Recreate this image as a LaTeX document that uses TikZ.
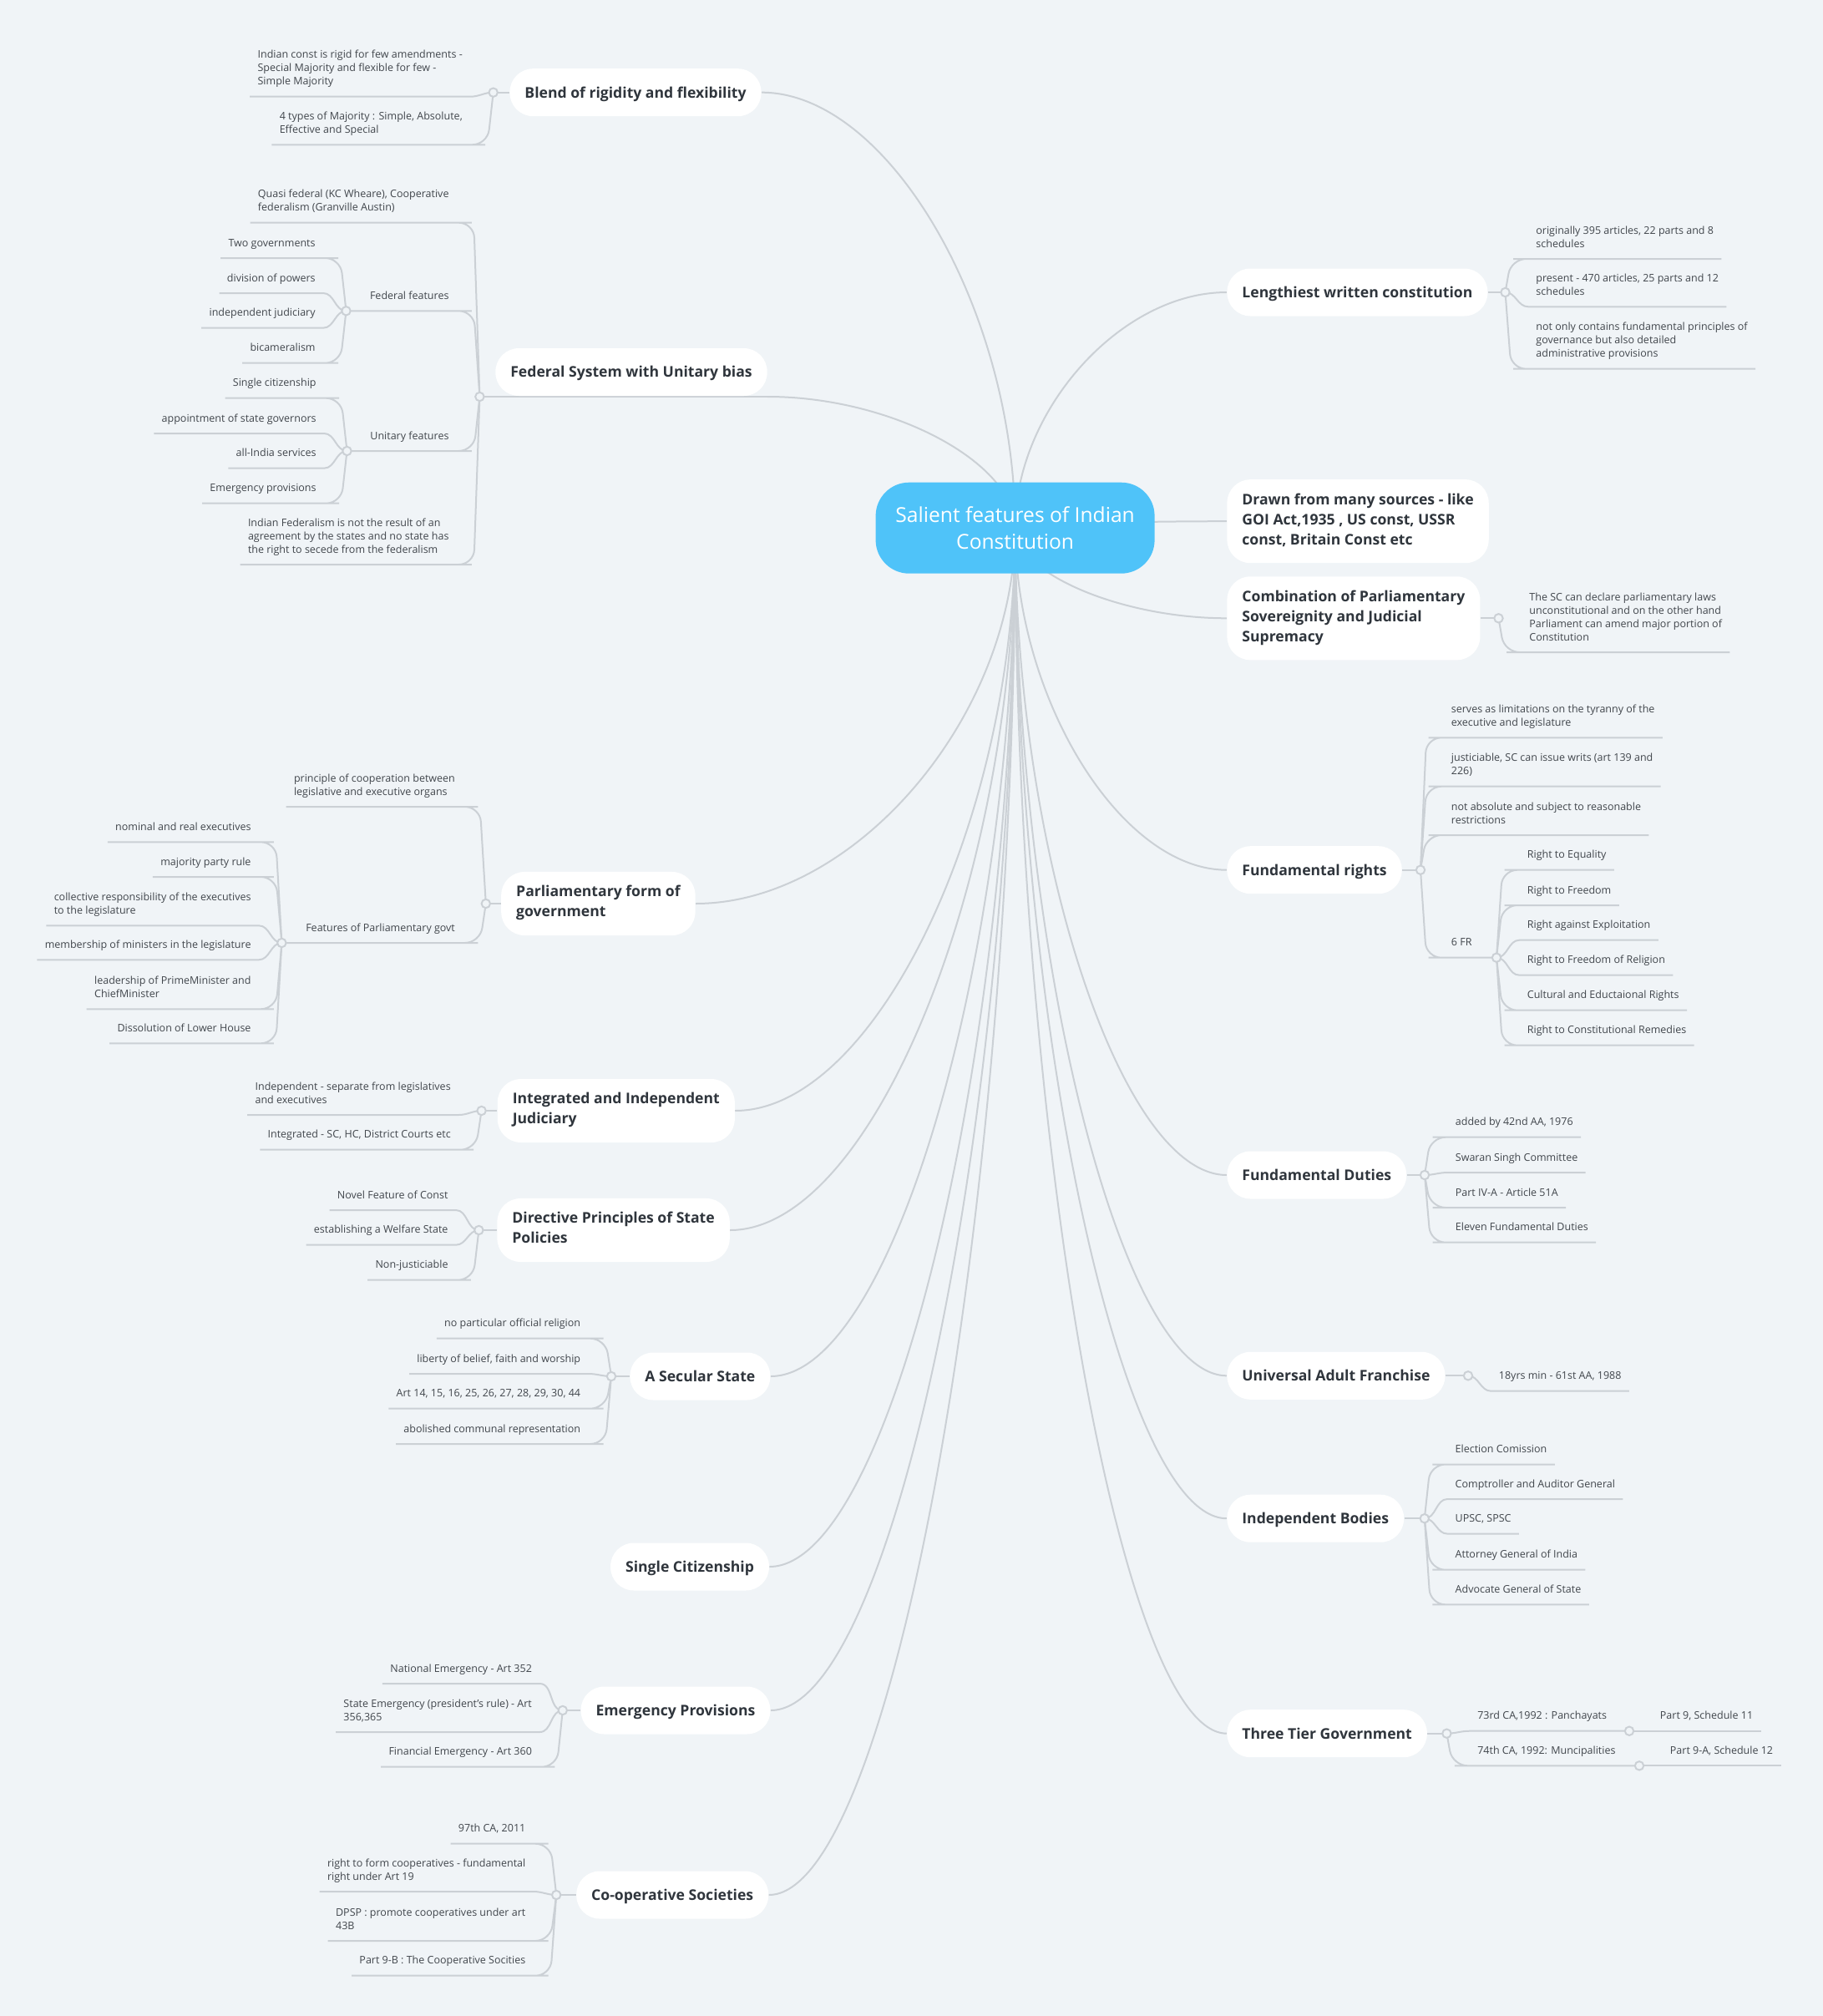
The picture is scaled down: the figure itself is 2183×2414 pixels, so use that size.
\documentclass[tikz,border=0pt]{standalone}
\usepackage{fontspec}
\setmainfont{Open Sans}
\usetikzlibrary{calc}
\definecolor{bgc}{HTML}{F0F4F7}
\definecolor{linec}{HTML}{CBD0D5}
\definecolor{maintxt}{HTML}{2F353C}
\definecolor{leaftxt}{HTML}{41464C}
\definecolor{rootfill}{HTML}{4FC3F9}
\pgfdeclarelayer{bg}
\pgfsetlayers{bg,main}
\newcommand\lfnt{\fontsize{6.25}{8}\selectfont}
\newcommand\mfnt{\fontsize{8.8}{12}\selectfont\bfseries}
\newcommand\rfnt{\fontsize{12.3}{16}\selectfont}
\newcommand\topstrut{\rule{0pt}{9.2pt}}
\newcommand\botstrut{\rule[-2.8pt]{0pt}{2.8pt}}
\tikzset{
  conn/.style={draw=linec, line width=1pt},
  mainlink/.style={to path={let \p1=(\tikztostart), \p2=(\tikztotarget), \p3=($(\tikztostart)!0.5!(\tikztotarget)$) in .. controls (\x1,\y3) and (\x3,\y2) .. (\tikztotarget)}},
  rootnode/.style={fill=rootfill, text=white, font=\rfnt, align=center, rounded corners=20pt, minimum width=167pt, minimum height=54.5pt, inner sep=0pt},
  topic/.style={fill=white, text=maintxt, font=\mfnt, align=left, rounded corners=14pt, inner xsep=9pt, inner ysep=8.25pt, execute at begin node=\topstrut, execute at end node=\botstrut},
  leaf/.style={text=leaftxt, font=\lfnt, align=left, inner xsep=4.5pt, inner ysep=4.3pt, execute at end node=\strut},
  leafL/.style={leaf, anchor=south east},
  leafR/.style={leaf, anchor=south west},
  dot/.style={draw=linec, fill=bgc, line width=1pt},
  elbow/.style={rounded corners=9pt},
}
\newcommand\LinkLS[2]{\draw[conn] (#1.south west) -- (#1.south east) to[out=0,in=180] (#2);}
\newcommand\LinkLE[2]{\draw[conn,elbow] (#1.south west) -- (#1.south east) -- ($(#2 |- #1.south)+(-7,0)$) -- (#2);}
\newcommand\LinkRS[2]{\draw[conn] (#1.south east) -- (#1.south west) to[out=180,in=0] (#2);}
\newcommand\LinkRE[2]{\draw[conn,elbow] (#1.south east) -- (#1.south west) -- ($(#2 |- #1.south)+(7,0)$) -- (#2);}
\begin{document}
\begin{tikzpicture}[x=0.5pt,y=-0.5pt]
\useasboundingbox (0,0) rectangle (2183,2414);

% ---------- root ----------
\node[rootnode] (root) at (1215.6,632.2) {Salient features of Indian\\Constitution};

% ---------- main topics, left ----------
\node[topic] (blend) at (761,110.7) {Blend of rigidity and flexibility};
\node[topic] (fed) at (756,445.5) {Federal System with Unitary bias};
\node[topic] (par) at (716.4,1082) {Parliamentary form of\\government};
\node[topic] (int) at (737.8,1330) {Integrated and Independent\\Judiciary};
\node[topic] (dir) at (734.6,1473) {Directive Principles of State\\Policies};
\node[topic] (sec) at (838.4,1648) {A Secular State};
\node[topic] (sin) at (826,1876) {Single Citizenship};
\node[topic] (eme) at (809,2048) {Emergency Provisions};
\node[topic] (coop) at (805.2,2269) {Co-operative Societies};

% ---------- main topics, right ----------
\node[topic,anchor=west] (len) at (1469,350) {Lengthiest written constitution};
\node[topic,anchor=west] (drawn) at (1469,624.2) {Drawn from many sources - like\\GOI Act,1935 , US const, USSR\\const, Britain Const etc};
\node[topic,anchor=west] (com) at (1469,740.3) {Combination of Parliamentary\\Sovereignity and Judicial\\Supremacy};
\node[topic,anchor=west] (fr) at (1469,1041.7) {Fundamental rights};
\node[topic,anchor=west] (fd) at (1469,1407) {Fundamental Duties};
\node[topic,anchor=west] (uaf) at (1469,1647.3) {Universal Adult Franchise};
\node[topic,anchor=west] (ib) at (1469,1818.2) {Independent Bodies};
\node[topic,anchor=west] (tt) at (1469,2075.7) {Three Tier Government};

% ---------- junction points ----------
\coordinate (cBlend) at (590.7,110.7);
\coordinate (cFed) at (574.4,475);
\coordinate (fedR) at (cFed -| fed.east);
\coordinate (cFedF) at (414.5,372.3);
\coordinate (cFedU) at (415.5,540);
\coordinate (cPar) at (581.8,1082);
\coordinate (cParF) at (337.4,1129);
\coordinate (cInt) at (576.6,1330);
\coordinate (cDir) at (573.4,1473);
\coordinate (cSec) at (732,1648);
\coordinate (cEme) at (673.8,2048);
\coordinate (cCoop) at (666.2,2269);
\coordinate (cLen) at (1802.5,350);
\coordinate (cCom) at (1794.5,740.3);
\coordinate (cFR) at (1701,1041.7);
\coordinate (cFRsix) at (1792,1146.7);
\coordinate (cFD) at (1706,1407);
\coordinate (cUAF) at (1758,1647.3);
\coordinate (cIB) at (1705.8,1818.2);
\coordinate (cTT) at (1732.4,2075.7);
\coordinate (cTTa) at (1951,2072.7);
\coordinate (cTTb) at (1963,2114.3);

% ---------- leaves, left ----------
\node[leafL] (bA) at (563.2,115.7) {Indian const is rigid for few amendments -\\Special Majority and flexible for few -\\Simple Majority};
\node[leafL] (bB) at (563.2,173.3) {4 types of Majority : Simple, Absolute,\\Effective and Special};

\node[leafL] (fA) at (546.9,266.7) {Quasi federal (KC Wheare), Cooperative\\federalism (Granville Austin)};
\node[leafL] (fF) at (546.9,372.3) {Federal features};
\node[leafL] (fU) at (546.9,540) {Unitary features};
\node[leafL] (fB) at (546.9,676) {Indian Federalism is not the result of an\\agreement by the states and no state has\\the right to secede from the federalism};

\node[leafL] (f1) at (387,309) {Two governments};
\node[leafL] (f2) at (387,351) {division of powers};
\node[leafL] (f3) at (387,392.7) {independent judiciary};
\node[leafL] (f4) at (387,434.7) {bicameralism};

\node[leafL] (u1) at (388,476.7) {Single citizenship};
\node[leafL] (u2) at (388,519) {appointment of state governors};
\node[leafL] (u3) at (388,560.7) {all-India services};
\node[leafL] (u4) at (388,602.7) {Emergency provisions};

\node[leafL] (p1) at (554.3,966) {principle of cooperation between\\legislative and executive organs};
\node[leafL] (pF) at (554.3,1129) {Features of Parliamentary govt};

\node[leafL] (q1) at (309.9,1008.3) {nominal and real executives};
\node[leafL] (q2) at (309.9,1050) {majority party rule};
\node[leafL] (q3) at (309.9,1108.3) {collective responsibility of the executives\\to the legislature};
\node[leafL] (q4) at (309.9,1149.3) {membership of ministers in the legislature};
\node[leafL] (q5) at (309.9,1208.3) {leadership of PrimeMinister and\\ChiefMinister};
\node[leafL] (q6) at (309.9,1249.3) {Dissolution of Lower House};

\node[leafL] (i1) at (549.1,1335) {Independent - separate from legislatives\\and executives};
\node[leafL] (i2) at (549.1,1376.7) {Integrated - SC, HC, District Courts etc};

\node[leafL] (d1) at (545.9,1449) {Novel Feature of Const};
\node[leafL] (d2) at (545.9,1490.7) {establishing a Welfare State};
\node[leafL] (d3) at (545.9,1532.7) {Non-justiciable};

\node[leafL] (s1) at (704.5,1602.7) {no particular official religion};
\node[leafL] (s2) at (704.5,1645) {liberty of belief, faith and worship};
\node[leafL] (s3) at (704.5,1686.7) {Art 14, 15, 16, 25, 26, 27, 28, 29, 30, 44};
\node[leafL] (s4) at (704.5,1729) {abolished communal representation};

\node[leafL] (e1) at (646.3,2016) {National Emergency - Art 352};
\node[leafL] (e2) at (646.3,2074) {State Emergency (president's rule) - Art\\356,365};
\node[leafL] (e3) at (646.3,2115.7) {Financial Emergency - Art 360};

\node[leafL] (k1) at (638.7,2207.7) {97th CA, 2011};
\node[leafL] (k2) at (638.7,2265) {right to form cooperatives - fundamental\\right under Art 19};
\node[leafL] (k3) at (638.7,2324) {DPSP : promote cooperatives under art\\43B};
\node[leafL] (k4) at (638.7,2365.7) {Part 9-B : The Cooperative Socities};

% ---------- leaves, right ----------
\node[leafR] (l1) at (1830,310) {originally 395 articles, 22 parts and 8\\schedules};
\node[leafR] (l2) at (1830,367.3) {present - 470 articles, 25 parts and 12\\schedules};
\node[leafR] (l3) at (1830,441.7) {not only contains fundamental principles of\\governance but also detailed\\administrative provisions};

\node[leafR] (m1) at (1822,781) {The SC can declare parliamentary laws\\unconstitutional and on the other hand\\Parliament can amend major portion of\\Constitution};

\node[leafR] (r1) at (1728.5,883.3) {serves as limitations on the tyranny of the\\executive and legislature};
\node[leafR] (r2) at (1728.5,941.7) {justiciable, SC can issue writs (art 139 and\\226)};
\node[leafR] (r3) at (1728.5,1000) {not absolute and subject to reasonable\\restrictions};
\node[leafR] (r6) at (1728.5,1146.7) {6 FR};

\node[leafR] (g1) at (1819.5,1041.7) {Right to Equality};
\node[leafR] (g2) at (1819.5,1084) {Right to Freedom};
\node[leafR] (g3) at (1819.5,1125.7) {Right against Exploitation};
\node[leafR] (g4) at (1819.5,1167.7) {Right to Freedom of Religion};
\node[leafR] (g5) at (1819.5,1209.7) {Cultural and Eductaional Rights};
\node[leafR] (g6) at (1819.5,1251.7) {Right to Constitutional Remedies};

\node[leafR] (h1) at (1733.5,1361.7) {added by 42nd AA, 1976};
\node[leafR] (h2) at (1733.5,1404) {Swaran Singh Committee};
\node[leafR] (h3) at (1733.5,1446) {Part IV-A - Article 51A};
\node[leafR] (h4) at (1733.5,1487.7) {Eleven Fundamental Duties};

\node[leafR] (a1) at (1785.5,1665.7) {18yrs min - 61st AA, 1988};

\node[leafR] (j1) at (1733.3,1753.5) {Election Comission};
\node[leafR] (j2) at (1733.3,1795) {Comptroller and Auditor General};
\node[leafR] (j3) at (1733.3,1836.6) {UPSC, SPSC};
\node[leafR] (j4) at (1733.3,1879.7) {Attorney General of India};
\node[leafR] (j5) at (1733.3,1921.3) {Advocate General of State};

\node[leafR] (t1) at (1759.9,2072.7) {73rd CA,1992 : Panchayats};
\node[leafR] (t2) at (1759.9,2114.3) {74th CA, 1992: Muncipalities};
\node[leafR] (ta) at (1978.5,2072.7) {Part 9, Schedule 11};
\node[leafR] (tb) at (1990.5,2114.3) {Part 9-A, Schedule 12};

% ---------- connectors (behind) ----------
\begin{pgfonlayer}{bg}
\fill[bgc] (0,0) rectangle (2183,2414);
% root to main topics
\draw[conn] (root.center) to[mainlink] (blend.east);
\draw[conn] (root.center) to[mainlink] (fedR);
\draw[conn] (root.center) to[mainlink] (par.east);
\draw[conn] (root.center) to[mainlink] (int.east);
\draw[conn] (root.center) to[mainlink] (dir.east);
\draw[conn] (root.center) to[mainlink] (sec.east);
\draw[conn] (root.center) to[mainlink] (sin.east);
\draw[conn] (root.center) to[mainlink] (eme.east);
\draw[conn] (root.center) to[mainlink] (coop.east);
\draw[conn] (root.center) to[mainlink] (len.west);
\draw[conn] (root.center) to[mainlink] (drawn.west);
\draw[conn] (root.center) to[mainlink] (com.west);
\draw[conn] (root.center) to[mainlink] (fr.west);
\draw[conn] (root.center) to[mainlink] (fd.west);
\draw[conn] (root.center) to[mainlink] (uaf.west);
\draw[conn] (root.center) to[mainlink] (ib.west);
\draw[conn] (root.center) to[mainlink] (tt.west);
% stubs
\draw[conn] (cBlend) -- (blend.west);
\draw[conn] (cFed) -- (fedR);
\draw[conn] (cPar) -- (par.west);
\draw[conn] (cInt) -- (int.west);
\draw[conn] (cDir) -- (dir.west);
\draw[conn] (cSec) -- (sec.west);
\draw[conn] (cEme) -- (eme.west);
\draw[conn] (cCoop) -- (coop.west);
\draw[conn] (len.east) -- (cLen);
\draw[conn] (com.east) -- (cCom);
\draw[conn] (fr.east) -- (cFR);
\draw[conn] (fd.east) -- (cFD);
\draw[conn] (uaf.east) -- (cUAF);
\draw[conn] (ib.east) -- (cIB);
\draw[conn] (tt.east) -- (cTT);
% left leaves
\LinkLS{bA}{cBlend}
\LinkLE{bB}{cBlend}
\LinkLE{fA}{cFed}
\draw[conn,elbow] (cFedF) -- (fF.south east) -- ($(cFed |- fF.south)+(-7,0)$) -- (cFed);
\draw[conn,elbow] (cFedU) -- (fU.south east) -- ($(cFed |- fU.south)+(-7,0)$) -- (cFed);
\LinkLE{fB}{cFed}
\LinkLE{f1}{cFedF}
\LinkLS{f2}{cFedF}
\LinkLS{f3}{cFedF}
\LinkLE{f4}{cFedF}
\LinkLE{u1}{cFedU}
\LinkLS{u2}{cFedU}
\LinkLS{u3}{cFedU}
\LinkLE{u4}{cFedU}
\LinkLE{p1}{cPar}
\draw[conn,elbow] (cParF) -- (pF.south east) -- ($(cPar |- pF.south)+(-7,0)$) -- (cPar);
\LinkLE{q1}{cParF}
\LinkLE{q2}{cParF}
\LinkLS{q3}{cParF}
\LinkLS{q4}{cParF}
\LinkLE{q5}{cParF}
\LinkLE{q6}{cParF}
\LinkLS{i1}{cInt}
\LinkLE{i2}{cInt}
\LinkLS{d1}{cDir}
\LinkLS{d2}{cDir}
\LinkLE{d3}{cDir}
\LinkLE{s1}{cSec}
\LinkLS{s2}{cSec}
\LinkLE{s3}{cSec}
\LinkLE{s4}{cSec}
\LinkLS{e1}{cEme}
\LinkLS{e2}{cEme}
\LinkLE{e3}{cEme}
\LinkLE{k1}{cCoop}
\LinkLS{k2}{cCoop}
\LinkLE{k3}{cCoop}
\LinkLE{k4}{cCoop}
% right leaves
\LinkRE{l1}{cLen}
\LinkRS{l2}{cLen}
\LinkRE{l3}{cLen}
\LinkRE{m1}{cCom}
\LinkRE{r1}{cFR}
\LinkRE{r2}{cFR}
\LinkRE{r3}{cFR}
\draw[conn,elbow] (cFRsix) -- (r6.south west) -- ($(cFR |- r6.south)+(7,0)$) -- (cFR);
\LinkRE{g1}{cFRsix}
\LinkRE{g2}{cFRsix}
\LinkRS{g3}{cFRsix}
\LinkRS{g4}{cFRsix}
\LinkRE{g5}{cFRsix}
\LinkRE{g6}{cFRsix}
\LinkRE{h1}{cFD}
\LinkRS{h2}{cFD}
\LinkRE{h3}{cFD}
\LinkRE{h4}{cFD}
\LinkRS{a1}{cUAF}
\LinkRE{j1}{cIB}
\LinkRS{j2}{cIB}
\LinkRS{j3}{cIB}
\LinkRE{j4}{cIB}
\LinkRE{j5}{cIB}
\draw[conn] (cTTa) -- (t1.south west) to[out=180,in=0] (cTT);
\draw[conn,elbow] (cTTb) -- (t2.south west) -- ($(cTT |- t2.south)+(7,0)$) -- (cTT);
\LinkRS{ta}{cTTa}
\LinkRS{tb}{cTTb}
\end{pgfonlayer}

% ---------- junction circles ----------
\foreach \c in {cBlend,cFed,cFedF,cFedU,cPar,cParF,cInt,cDir,cSec,cEme,cCoop,cLen,cCom,cFR,cFRsix,cFD,cUAF,cIB,cTT,cTTa,cTTb}
  \draw[dot] (\c) circle[radius=2.6pt];
\end{tikzpicture}
\end{document}
